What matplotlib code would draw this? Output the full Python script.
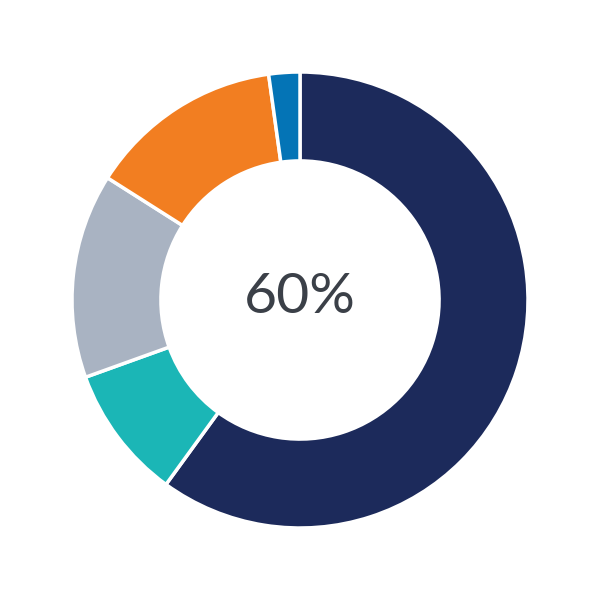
import matplotlib.pyplot as plt

# Slice shares, clockwise from 12 o'clock
labels = ["Navy", "Teal", "Grey", "Orange", "Blue"]
values = [60, 9.5, 14.5, 13.8, 2.2]
colors = ["#1c2a5b", "#1bb6b6", "#a9b3c2", "#f27e21", "#0474b6"]
center_text = "60%"

fig = plt.figure(figsize=(6, 6), dpi=100)
ax = fig.add_axes([0, 0, 1, 1])

ax.pie(
    values,
    colors=colors,
    startangle=90,
    counterclock=False,
    radius=1.0,
    wedgeprops=dict(width=0.39, edgecolor="white", linewidth=2.5),
)
ax.text(0, 0.01, center_text, ha="center", va="center",
        fontsize=41, color="#3b4048", family=["Lato", "DejaVu Sans"],
        fontweight="normal")

lim = 300 / 228
ax.set_xlim(-lim, lim)
ax.set_ylim(-lim, lim)
ax.set_aspect("equal")
ax.axis("off")

fig.savefig("out.png", dpi=100, facecolor="white")
